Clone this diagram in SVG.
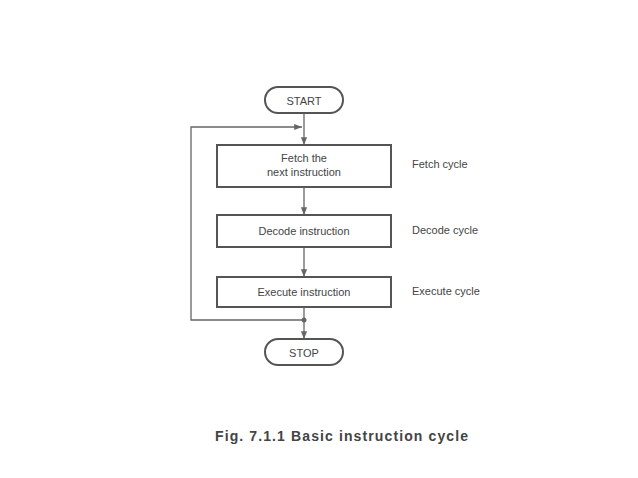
<svg xmlns="http://www.w3.org/2000/svg" width="638" height="478" viewBox="0 0 638 478">
<style>
.b{fill:#fff;stroke:#555;stroke-width:2}
.t{font-family:"Liberation Sans",Arial,sans-serif;font-size:11px;fill:#444;text-anchor:middle}
.l{font-family:"Liberation Sans",Arial,sans-serif;font-size:11px;fill:#444}
.c{fill:none;stroke:#666;stroke-width:1.3}
</style>
<defs><marker id="a" viewBox="0 0 10 10" refX="10" refY="5" markerWidth="6" markerHeight="6" orient="auto"><path d="M0,1 L10,5 L0,9z" fill="#666"/></marker></defs>
<rect width="638" height="478" fill="#fff"/>
<g id="connectors">
<line class="c" x1="304" y1="113" x2="304" y2="145" marker-end="url(#a)"/>
<line class="c" x1="304" y1="187" x2="304" y2="215" marker-end="url(#a)"/>
<line class="c" x1="304" y1="247" x2="304" y2="277" marker-end="url(#a)"/>
<line class="c" x1="304" y1="307" x2="304" y2="339" marker-end="url(#a)"/>
<polyline class="c" points="304,320 191,320 191,127 302,127" marker-end="url(#a)"/>
<circle cx="304" cy="320" r="2.5" fill="#666"/>
</g>
<g id="start"><rect class="b" x="265" y="87" width="78" height="26" rx="13"/><text class="t" x="304" y="105">START</text></g>
<g id="fetch"><rect class="b" x="217" y="145" width="174" height="42"/><text class="t" x="304" y="162">Fetch the</text><text class="t" x="304" y="176">next instruction</text></g>
<g id="decode"><rect class="b" x="217" y="215" width="174" height="32"/><text class="t" x="304" y="235">Decode instruction</text></g>
<g id="execute"><rect class="b" x="217" y="277" width="174" height="30"/><text class="t" x="304" y="296">Execute instruction</text></g>
<g id="stop"><rect class="b" x="265" y="339" width="78" height="26" rx="13"/><text class="t" x="304" y="357">STOP</text></g>
<text class="l" x="412" y="168">Fetch cycle</text>
<text class="l" x="412" y="234">Decode cycle</text>
<text class="l" x="412" y="295">Execute cycle</text>
<text x="215" y="441" font-family="Liberation Sans,Arial,sans-serif" font-size="14" font-weight="bold" fill="#444" textLength="253" lengthAdjust="spacing">Fig. 7.1.1 Basic instruction cycle</text>
</svg>
